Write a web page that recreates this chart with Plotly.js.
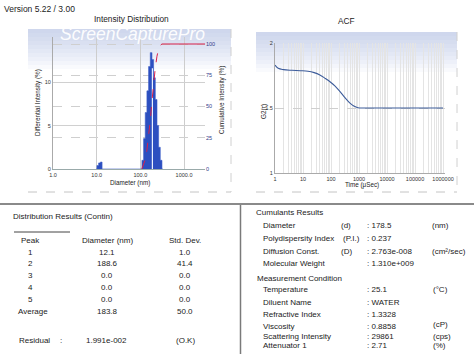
<!DOCTYPE html>
<html><head><meta charset="utf-8">
<script src="https://cdn.plot.ly/plotly-3.0.1.min.js"></script>
<style>html,body{margin:0;padding:0;background:#fff;overflow:hidden}#c{width:474px;height:354px}</style>
</head><body><div id="c"></div>
<script>
const W = 474, H = 354;
const X = p => p / W, Y = p => 1 - p / H;

// ---------- Intensity distribution ----------
const diameterNm   = [9.7, 10.6, 11.6, 12.7, 13.9, 104, 113.5, 124, 135, 148, 161, 177, 192, 210, 230, 251, 273, 299, 327];
const intensityPct = [0,   0.4,  0.7,  0.8,  0,    0,   1.0,   3.5, 6.5, 9.0, 11.8, 13.4, 12.6, 10.5, 8.0, 5.0, 2.5, 1.0, 0];
const cumDiameterNm = [108, 119, 129, 141, 154, 169, 184, 201, 220, 240, 262, 286, 312];
const cumIntensityPct = [0, 3.3, 7.4, 14.9, 25.3, 38.9, 54.3, 68.9, 81.0, 90.2, 96.0, 98.9, 100];
const cumFlatNm = [312, 3100];
const cumFlatPct = [100, 100];
const peakMeanNm = [188.6, 188.6];
const peakMarkPct = [0, 11.6];
const diamTicks = [1, 10, 100, 1000];
const diamTickText = ['1.0', '10.0', '100.0', '1000.0'];

// ---------- ACF ----------
const timeUs = [1, 1.3, 2, 4, 8, 15, 25, 40, 60, 92, 140, 210, 320, 475, 650, 920, 1500, 3000, 10000, 100000, 1000000];
const g2 = [1.83, 1.805, 1.795, 1.79, 1.787, 1.783, 1.772, 1.754, 1.73, 1.702, 1.668, 1.626, 1.578, 1.538, 1.515, 1.502, 1.5, 1.5, 1.5, 1.5, 1.5];
const timeDecades = [1, 10, 100, 1000, 10000, 100000, 1000000];
const timeTickText = ['1', '10', '100', '1000', '10000', '100000', '1000000'];

// ---------- Tables ----------
const peakIds = ['1', '2', '3', '4', '5'];
const peakDiam = ['12.1', '188.6', '0.0', '0.0', '0.0'];
const peakStd = ['1.0', '41.4', '0.0', '0.0', '0.0'];
const avgDiam = '183.8', avgStd = '50.0';
const residual = '1.991e-002', residualNote = '(O.K)';

const cumLabels = ['Diameter', 'Polydispersity Index', 'Diffusion Const.', 'Molecular Weight'];
const cumSymbols = ['(d)', '(P.I.)', '(D)', ''];
const cumValues = [': 178.5', ': 0.237', ': 2.763e-008', ': 1.310e+009'];
const cumUnits = ['(nm)', '', '(cm²/sec)', ''];
const condLabels = ['Temperature', 'Diluent Name', 'Refractive Index', 'Viscosity', 'Scattering Intensity', 'Attenuator 1'];
const condValues = [': 25.1', ': WATER', ': 1.3328', ': 0.8858', ': 29861', ': 2.71'];
const condUnits = ['(°C)', '', '', '(cP)', '(cps)', '(%)'];

// minor log grid for ACF
const acfGrid = [], acfGridText = [];
for (let e = 0; e < 6; e++) for (let k = 1; k < 10; k++) {
  acfGrid.push(k * Math.pow(10, e));
  acfGridText.push(k === 1 ? timeTickText[e] : '');
}
acfGrid.push(timeDecades[6]); acfGridText.push(timeTickText[6]);

const traces = [
  {x: cumDiameterNm, y: cumIntensityPct, xaxis: 'x', yaxis: 'y2', mode: 'lines',
   line: {color: '#d8204a', width: 1, dash: 'dash'}, hoverinfo: 'skip'},
  {x: cumFlatNm, y: cumFlatPct, xaxis: 'x', yaxis: 'y2', mode: 'lines',
   line: {color: '#d8204a', width: 1}, hoverinfo: 'skip'},
  {x: diameterNm, y: intensityPct, xaxis: 'x', yaxis: 'y', mode: 'lines',
   line: {shape: 'hvh', color: '#3a5cc8', width: 0.6}, fill: 'tozeroy', fillcolor: '#2c4fc0', hoverinfo: 'skip'},
  {x: peakMeanNm, y: peakMarkPct, xaxis: 'x', yaxis: 'y', mode: 'lines',
   line: {color: '#eef3ff', width: 1.2}, hoverinfo: 'skip'},
  {x: timeUs, y: g2, xaxis: 'x3', yaxis: 'y3', mode: 'lines',
   line: {color: '#3d5c9a', width: 1.1, shape: 'spline'}, hoverinfo: 'skip'}
];

const tf = {family: 'Liberation Sans, Arial, sans-serif', size: 5.5, color: '#333'};
const font = 'Liberation Sans, Arial, sans-serif';

const shapes = [];
function band(x0, x1, top) {
  for (let k = 0; k < 10; k++) {
    shapes.push({type: 'rect', xref: 'paper', yref: 'paper', x0: X(x0), x1: X(x1), y0: Y(top), y1: Y(top + 4 * (k + 1)),
      fillcolor: '#9fb3dd', opacity: 0.065, line: {width: 0}, layer: 'below'});
  }
}
band(28, 231, 29);
band(256, 457, 32);
function line(x0, y0, x1, y1, color, width, dash) {
  shapes.push({type: 'line', xref: 'paper', yref: 'paper', x0: X(x0), x1: X(x1), y0: Y(y0), y1: Y(y1),
    line: {color: color, width: width, dash: dash || 'solid'}});
}
line(28, 192, 231, 192, '#c4c4c4', 1, 'dash');
line(231, 29, 231, 192, '#d0d0d0', 1, 'dash');
line(256, 192, 457, 192, '#c4c4c4', 1, 'dash');
line(457, 32, 457, 192, '#d0d0d0', 1, 'dash');
line(0, 204, 474, 204, '#8a8a8a', 2);
line(240.5, 205, 240.5, 354, '#7a7a7a', 1.5);
line(14, 232, 70, 232, '#444', 1);

const ann = [];
function txt(s, x, y, anchor, size, color, extra) {
  ann.push(Object.assign({text: s, xref: 'paper', yref: 'paper', x: X(x), y: Y(y), xanchor: anchor || 'left', yanchor: 'middle',
    showarrow: false, font: {family: font, size: size || 8, color: color || '#222'}}, extra || {}));
}
txt('Version 5.22 / 3.00', 2, 9, 'left', 8.5);
txt('Intensity Distribution', 131, 19, 'center', 8.3);
txt('ACF', 346, 21, 'center', 8.3);
txt('ScreenCapturePro', 58, 34, 'left', 17, 'rgba(255,255,255,0.95)', {font: {family: font, size: 17.5, color: 'rgba(255,255,255,0.95)', style: 'italic'}});
txt('Diameter (nm)', 130, 183, 'center', 6.3);
txt('Time (μSec)', 362, 185, 'center', 6.3);
txt('Differential Intensity (%)', 38, 103, 'center', 6.3, '#222', {textangle: -90});
txt('Cumulative Intensity (%)', 222, 100, 'center', 6.3, '#222', {textangle: -90});
txt('G2(τ)', 264, 112, 'center', 6.3, '#222', {textangle: -90});

// left table
txt('Distribution Results (Contin)', 11, 216, 'left', 8);
txt('Peak', 30, 240, 'center');
txt('Diameter (nm)', 107, 240, 'center');
txt('Std. Dev.', 185, 240, 'center');
const rowY = [252, 263.8, 275.6, 287.4, 299.2];
for (let i = 0; i < peakIds.length; i++) {
  txt(peakIds[i], 30, rowY[i], 'center');
  txt(peakDiam[i], 107, rowY[i], 'center');
  txt(peakStd[i], 185, rowY[i], 'center');
}
txt('Average', 33, 311, 'center');
txt(avgDiam, 107, 311, 'center');
txt(avgStd, 185, 311, 'center');
txt('Residual', 17, 340, 'left');
txt(':', 58, 340, 'left');
txt(residual, 106, 340, 'center');
txt(residualNote, 185, 340, 'center');

// right table
txt('Cumulants Results', 254, 213, 'left');
const cumY = [225, 238, 251, 263];
for (let i = 0; i < cumLabels.length; i++) {
  txt(cumLabels[i], 261, cumY[i], 'left');
  if (cumSymbols[i]) txt(cumSymbols[i], i === 1 ? 341 : 339, cumY[i], 'left');
  txt(cumValues[i], 365, cumY[i], 'left');
  if (cumUnits[i]) txt(cumUnits[i], 430, cumY[i], 'left');
}
txt('Measurement Condition', 255, 278, 'left');
const condY = [289.5, 302, 314, 326, 336.5, 345.5];
const unitY = [289.5, 302, 314, 324.5, 336, 345.5];
for (let i = 0; i < condLabels.length; i++) {
  txt(condLabels[i], 261, condY[i], 'left');
  txt(condValues[i], 365, condY[i], 'left');
  if (condUnits[i]) txt(condUnits[i], 431, unitY[i], 'left');
}

const layout = {
  width: W, height: H, margin: {l: 0, r: 0, t: 0, b: 0}, showlegend: false,
  paper_bgcolor: '#fff', plot_bgcolor: 'rgba(0,0,0,0)',
  xaxis: {type: 'log', domain: [X(53), X(205)], range: [0, 3.48], anchor: 'y',
    tickvals: diamTicks, ticktext: diamTickText, showgrid: true, gridcolor: '#cdcdcd', gridwidth: 1,
    showline: true, linecolor: '#9aa', linewidth: 1, ticks: '', tickfont: tf, zeroline: false, fixedrange: true},
  yaxis: {domain: [Y(169), Y(37)], range: [0, 15.2], anchor: 'x', tickvals: [0, 5, 10],
    showgrid: true, gridcolor: '#d0d0d0', showline: true, linecolor: '#aaa', ticks: '', tickfont: tf, zeroline: false},
  yaxis2: {overlaying: 'y', side: 'right', anchor: 'x', range: [0, 105.6], tickvals: [0, 25, 50, 75, 100],
    showgrid: true, gridcolor: '#cfcfcf', griddash: 'dash', showline: false, ticks: '',
    tickfont: {family: tf.family, size: 5.5, color: '#33408a'}, zeroline: false},
  xaxis3: {type: 'log', domain: [X(275), X(445)], range: [0, 6.07], anchor: 'y3',
    tickvals: acfGrid, ticktext: acfGridText, showgrid: true, gridcolor: '#e4e4e4', gridwidth: 1,
    showline: true, linecolor: '#aaa', ticks: '', tickfont: tf, zeroline: false, tickangle: 0},
  yaxis3: {domain: [Y(173), Y(43)], range: [1, 2], anchor: 'x3', tickvals: [1, 1.5, 2], ticktext: ['1', '1.5', '2'],
    showgrid: true, gridcolor: '#cfcfcf', griddash: 'dash', showline: true, linecolor: '#aaa', ticks: '',
    tickfont: tf, zeroline: false},
  shapes: shapes, annotations: ann
};

Plotly.newPlot('c', traces, layout, {staticPlot: true, displayModeBar: false});
</script>
</body></html>
